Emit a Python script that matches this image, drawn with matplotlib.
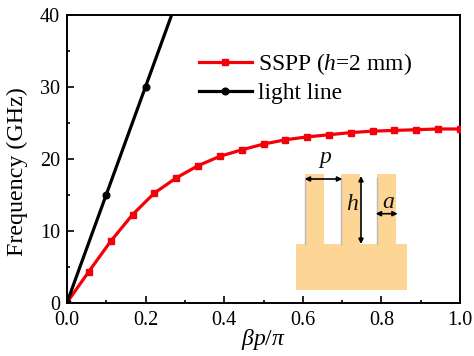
import matplotlib
matplotlib.use("Agg")
import matplotlib.pyplot as plt
from matplotlib.patches import Rectangle

plt.rcParams['font.family'] = ['Liberation Serif', 'DejaVu Serif']
plt.rcParams['mathtext.fontset'] = 'custom'
plt.rcParams['mathtext.rm'] = 'Liberation Serif'
plt.rcParams['mathtext.it'] = 'Liberation Serif:italic'

sspp_x = [i / 18 for i in range(19)]
sspp_f = [0, 4.3, 8.5, 12.2, 15.2, 17.3, 19.0, 20.3, 21.2, 22.0, 22.6, 23.0,
          23.3, 23.6, 23.8, 23.9, 24.0, 24.1, 24.1]
light_x = [0, 0.1, 0.2, 0.3]
light_f = [0, 15, 30, 45]
x_ticks = [0.0, 0.2, 0.4, 0.6, 0.8, 1.0]
y_ticks = [0, 10, 20, 30, 40]

W, H = 474, 356
fig = plt.figure(figsize=(W / 100, H / 100), dpi=100)
L, R, T, B = 67, 460, 14.5, 302.5
ax = fig.add_axes([L / W, 1 - B / H, (R - L) / W, (B - T) / H])

ax.plot(sspp_x, sspp_f, color='#f5000a', lw=2.3, marker='s', ms=4.6, label='SSPP ($h$=2 mm)', zorder=3)
ax.plot(light_x, light_f, color='#000000', lw=2.3, marker='o', ms=4.8, label='light line', zorder=3)

ax.set_xlim(0, 1)
ax.set_ylim(0, 40)
ax.set_xticks(x_ticks)
ax.set_xticks([0.1, 0.3, 0.5, 0.7, 0.9], minor=True)
ax.set_yticks(y_ticks)
ax.set_yticks([5, 15, 25, 35], minor=True)
ax.tick_params(which='major', direction='in', length=5, width=1.2, labelsize=14.5, pad=5)
ax.tick_params(axis='x', which='major', pad=6)
ax.tick_params(which='minor', direction='in', length=2.5, width=1.2)
for s in ax.spines.values():
    s.set_linewidth(1.4)
ax.set_xlabel(r'$\beta p/\pi$', fontsize=17, labelpad=-2)
ax.set_ylabel('Frequency (GHz)', fontsize=17.3)
ax.yaxis.set_label_coords((28 - L) / (R - L), 1 - (172 - T) / (B - T))

ax.legend(loc='upper left', bbox_to_anchor=((198.5 - L) / (R - L), 1 - (51 - T) / (B - T)),
          frameon=False, fontsize=16.9, handlelength=2.3, handletextpad=0.22,
          labelspacing=0.24, borderpad=0, borderaxespad=0, numpoints=1)

# inset schematic, laid out in figure pixels
ov = fig.add_axes([0, 0, 1, 1], facecolor='none')
ov.set_xlim(0, W)
ov.set_ylim(H, 0)
ov.axis('off')
gold = '#fdd595'
base_box = (296, 244, 111, 46)
tooth_lefts = [305.3, 341.3, 377.3]
tooth_w, tooth_top = 19, 173.5
ov.add_patch(Rectangle(base_box[:2], base_box[2], base_box[3], fc=gold, ec='none'))
for tx in tooth_lefts:
    ov.add_patch(Rectangle((tx, tooth_top), tooth_w, base_box[1] - tooth_top, fc=gold, ec='none'))
    ov.plot([tx, tx], [tooth_top + 4, base_box[1]], color='#b9b9b9', lw=1.0)

def arrow(a, b):
    ov.annotate('', xy=b, xytext=a, arrowprops=dict(arrowstyle='<|-|>', color='black', lw=1.2,
                shrinkA=0, shrinkB=0, mutation_scale=7))

arrow((304.7, 179), (342.3, 179))
arrow((361, 176), (361, 244))
arrow((375.7, 213.7), (397.7, 213.7))
for s, x, y in [('$p$', 325, 160), ('$h$', 352, 205), ('$a$', 388, 202)]:
    ov.text(x, y, s, fontsize=17, ha='center', va='center', color='#111111')

fig.savefig('out.png', dpi=100)
